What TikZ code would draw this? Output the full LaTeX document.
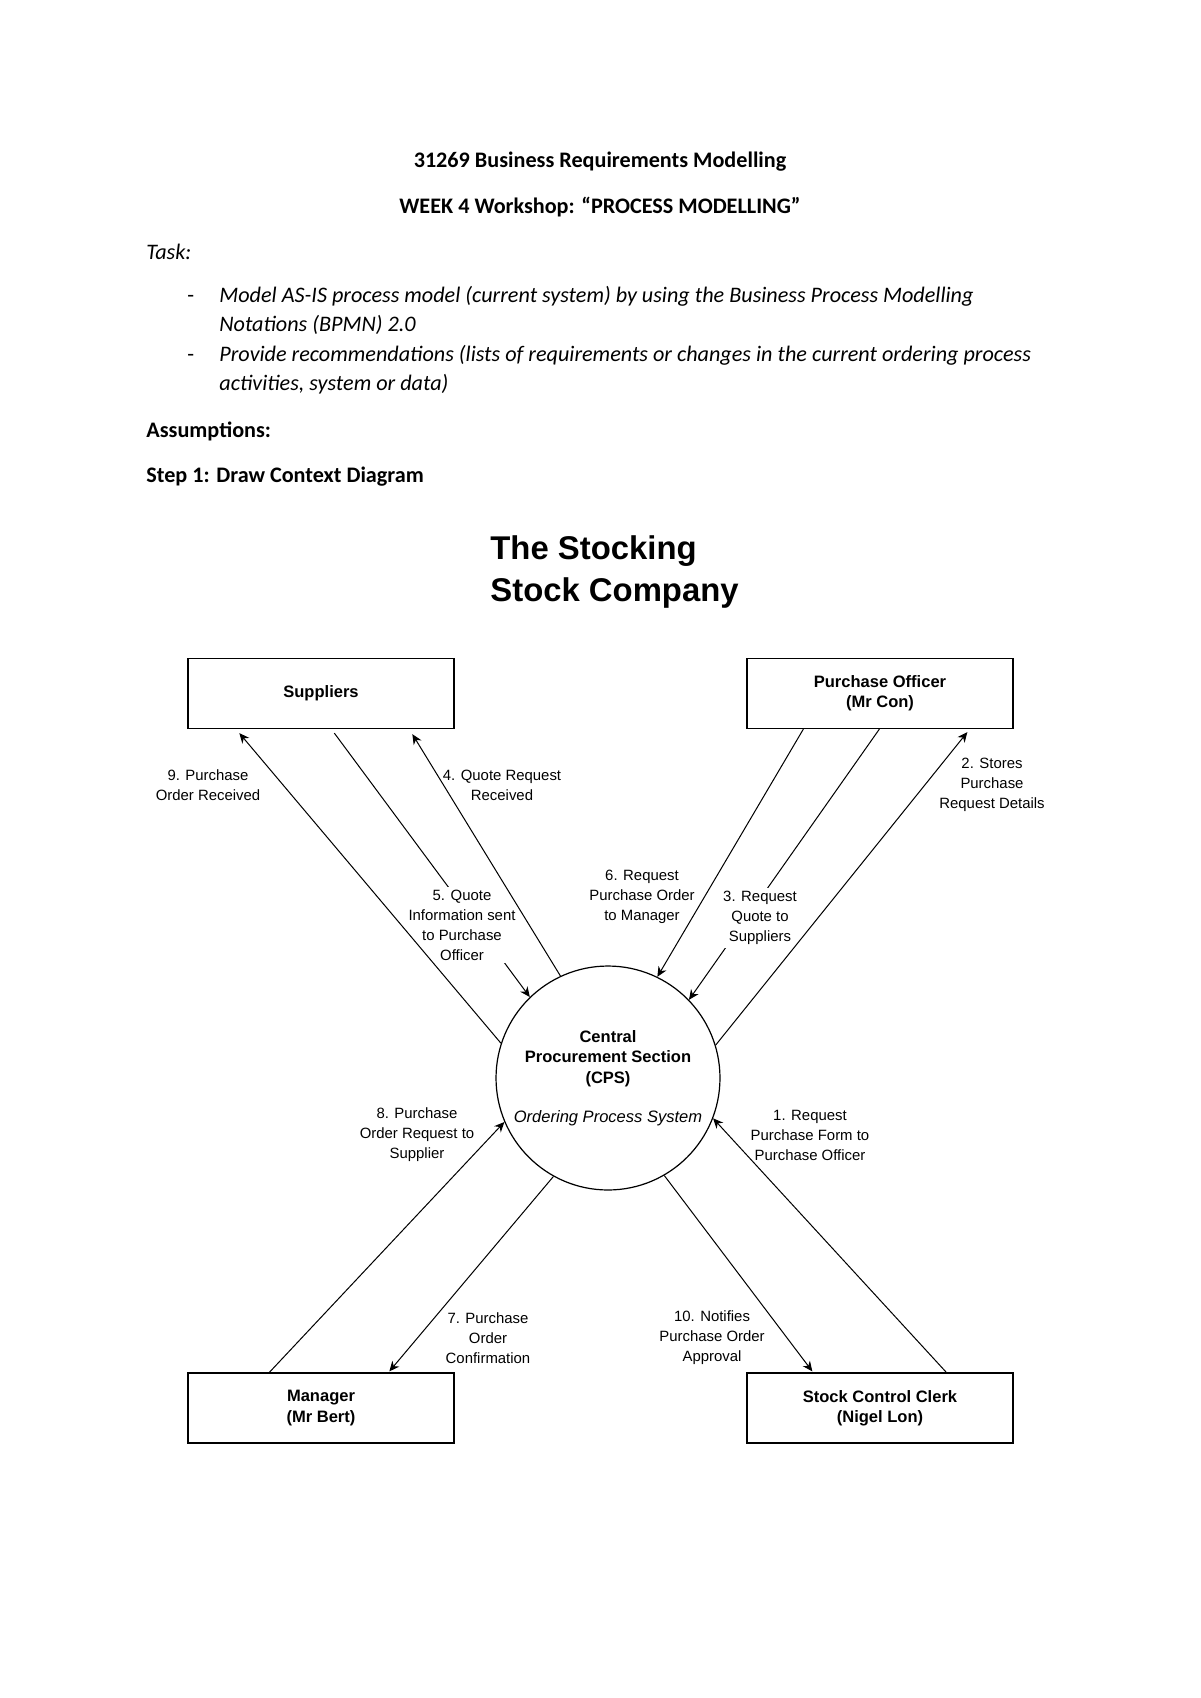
\documentclass[tikz,border=0pt]{standalone}
\usepackage{fontspec}
\setmainfont{Carlito}
\newfontfamily\arial{Liberation Sans}
\usetikzlibrary{arrows.meta,calc}
\begin{document}
\begin{tikzpicture}[x=0.4961pt,y=-0.4961pt,
  entity/.style={draw,line width=0.65pt,minimum width=131.96pt,minimum height=34.7pt,inner sep=0pt,align=center,font=\arial\bfseries\fontsize{8.2pt}{10.1pt}\selectfont},
  proc/.style={draw,circle,line width=0.6pt,minimum size=111.1pt,inner sep=0pt,align=center,font=\arial\bfseries\fontsize{8.2pt}{10.2pt}\selectfont},
  flow/.style={draw,line width=0.5pt,-{Stealth[length=5pt,width=4.5pt]}},
  lab/.style={font=\arial\fontsize{7.4pt}{9.9pt}\selectfont,align=center,inner sep=1pt},
  wlab/.style={lab,fill=white,inner sep=1.5pt},
  hdr/.style={anchor=base,inner sep=0pt,font=\fontsize{11pt}{14.5pt}\selectfont\bfseries},
  body/.style={anchor=base west,inner sep=0pt,font=\fontsize{11pt}{14.5pt}\selectfont},
  dtitle/.style={anchor=base west,inner sep=0pt,font=\arial\bfseries\fontsize{16.3pt}{18pt}\selectfont}
]
\useasboundingbox (0,0) rectangle (1200,1698);
\fill[white] (0,0) rectangle (1200,1698);

% header text
\node[hdr] (t1) at (600,167) {31269 Business Requirements Modelling};
\node[hdr] (t2) at (600,213) {WEEK 4 Workshop: “PROCESS MODELLING”};
\node[body,font=\fontsize{11pt}{14.5pt}\selectfont\itshape] (task) at (146,259) {Task:};
\node[body] (d1) at (187,302) {-};
\node[body,font=\fontsize{11pt}{14.5pt}\selectfont\itshape] (b1a) at (219,302) {Model AS-IS process model (current system) by using the Business Process Modelling};
\node[body,font=\fontsize{11pt}{14.5pt}\selectfont\itshape] (b1b) at (219,331.5) {Notations (BPMN) 2.0};
\node[body] (d2) at (187,361) {-};
\node[body,font=\fontsize{11pt}{14.5pt}\selectfont\itshape] (b2a) at (219,361) {Provide recommendations (lists of requirements or changes in the current ordering process};
\node[body,font=\fontsize{11pt}{14.5pt}\selectfont\itshape] (b2b) at (219,390) {activities, system or data)};
\node[body,font=\fontsize{11pt}{14.5pt}\selectfont\bfseries] (ass) at (146,437) {Assumptions:};
\node[body,font=\fontsize{11pt}{14.5pt}\selectfont\bfseries] (step) at (146,482) {Step 1: Draw Context Diagram};

% diagram title
\node[dtitle] (dt1) at (490,559) {The Stocking};
\node[dtitle] (dt2) at (490,601) {Stock Company};

% entities
\node[entity] (sup) at (321,693.5) {Suppliers};
\node[entity] (po) at (880,693.5) {Purchase Officer\\(Mr Con)};
\node[entity] (mgr) at (321,1408) {Manager\\(Mr Bert)};
\node[entity] (scc) at (880,1408) {Stock Control Clerk\\(Nigel Lon)};

% process
\node[proc] (cps) at (608,1078) {Central\\Procurement Section\\(CPS)\\[9pt]{\mdseries\itshape Ordering Process System}};

% flows broken by labels
\draw[flow] ($(sup.south west)+(147,4)$) -- (cps.134);
\draw[flow] ($(po.south west)+(133,0)$) -- (cps.44);
\node[wlab] (l5) at (462,925) {5. Quote\\Information sent\\to Purchase\\Officer};
\node[wlab] (l3) at (760,918) {3. Request\\Quote to\\Suppliers};

% other flows
\draw[flow] (cps.162) -- ($(sup.south west)+(52,4)$);
\draw[flow] (cps.115) -- ($(sup.south west)+(225,5)$);
\draw[flow] ($(po.south west)+(57,0)$) -- (cps.64);
\draw[flow] (cps.17) -- ($(po.south west)+(221,3)$);
\draw[flow] ($(mgr.north west)+(82,0)$) -- (cps.203);
\draw[flow] (cps.241) -- ($(mgr.north west)+(202,-1)$);
\draw[flow] (cps.300) -- ($(scc.north west)+(66,-1)$);
\draw[flow] ($(scc.north west)+(200,0)$) -- (cps.339);

% labels
\node[lab] (l9) at (208,785.5) {9. Purchase\\Order Received};
\node[lab] (l4) at (502,785.5) {4. Quote Request\\Received};
\node[lab] (l6) at (642,897) {6. Request\\Purchase Order\\to Manager};
\node[lab] (l2) at (992,785) {2. Stores\\Purchase\\Request Details};
\node[lab] (l8) at (417,1135) {8. Purchase\\Order Request to\\Supplier};
\node[lab] (l1) at (810,1135) {1. Request\\Purchase Form to\\Purchase Officer};
\node[lab] (l7) at (488,1338) {7. Purchase\\Order\\Confirmation};
\node[lab] (l10) at (712,1338) {10. Notifies\\Purchase Order\\Approval};
\end{tikzpicture}
\end{document}
